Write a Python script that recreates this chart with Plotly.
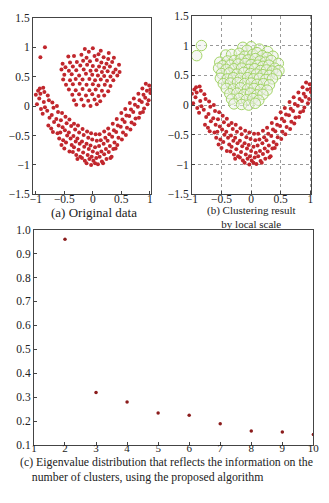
import plotly.graph_objects as go

# ---- data ----
top_cluster = [
    (-0.84, 1.00), (-0.92, 0.83),
    (-0.14, 0.97), (0.00, 0.98),
    (0.14, 0.94), (0.28, 0.90), (-0.07, 0.92),
    (-0.43, 0.84), (-0.33, 0.85), (-0.20, 0.87), (-0.11, 0.82), (0.03, 0.85), (0.10, 0.88), (0.19, 0.83), (0.37, 0.82), (0.27, 0.80),
    (-0.53, 0.72), (-0.40, 0.74), (-0.28, 0.75), (-0.17, 0.77), (-0.05, 0.76), (0.07, 0.78), (0.15, 0.74), (0.24, 0.72), (0.34, 0.75), (0.46, 0.70),
    (-0.48, 0.66), (-0.35, 0.67), (-0.22, 0.69), (-0.10, 0.70), (0.00, 0.68), (0.11, 0.67), (0.20, 0.65), (0.30, 0.67), (0.40, 0.62),
    (-0.55, 0.62), (-0.42, 0.60), (-0.29, 0.61), (-0.16, 0.62), (-0.04, 0.60), (0.06, 0.61), (0.16, 0.58), (0.26, 0.59), (0.36, 0.57), (0.47, 0.58),
    (-0.50, 0.53), (-0.37, 0.54), (-0.24, 0.52), (-0.12, 0.55), (-0.01, 0.53), (0.09, 0.52), (0.20, 0.51), (0.31, 0.50), (0.43, 0.52),
    (-0.52, 0.45), (-0.40, 0.44), (-0.30, 0.46), (-0.18, 0.45), (-0.06, 0.46), (0.04, 0.44), (0.14, 0.45), (0.25, 0.43), (0.36, 0.44),
    (-0.47, 0.36), (-0.35, 0.37), (-0.23, 0.38), (-0.11, 0.36), (0.00, 0.37), (0.10, 0.35), (0.21, 0.36), (0.31, 0.34),
    (-0.42, 0.28), (-0.30, 0.27), (-0.18, 0.29), (-0.06, 0.27), (0.05, 0.28), (0.16, 0.26), (0.27, 0.25),
    (-0.36, 0.19), (-0.24, 0.20), (-0.12, 0.18), (-0.01, 0.20), (0.10, 0.17), (0.20, 0.18),
    (-0.33, 0.10), (-0.20, 0.11), (-0.08, 0.09), (0.03, 0.11), (0.13, 0.08),
    (-0.29, 0.02), (-0.16, 0.01), (-0.04, 0.00), (0.07, 0.03),
]

bottom_moon = [
    (-1.00, 0.19), (-0.98, 0.03), (-0.96, 0.26),
    (-0.93, 0.30), (-0.94, 0.13), (-0.91, -0.05), (-0.92, 0.21),
    (-0.87, 0.31), (-0.85, 0.24), (-0.86, 0.07), (-0.88, -0.13), (-0.84, -0.02),
    (-0.79, 0.18), (-0.77, 0.10), (-0.80, -0.08), (-0.76, -0.20), (-0.78, -0.33),
    (-0.71, 0.06), (-0.69, -0.03), (-0.72, -0.15), (-0.68, -0.27), (-0.70, -0.44), (-0.73, -0.38),
    (-0.63, 0.00), (-0.61, -0.10), (-0.64, -0.22), (-0.60, -0.33), (-0.62, -0.46), (-0.59, -0.55),
    (-0.54, -0.12), (-0.56, -0.24), (-0.53, -0.36), (-0.57, -0.45), (-0.52, -0.58), (-0.55, -0.66),
    (-0.48, -0.18), (-0.46, -0.29), (-0.49, -0.41), (-0.45, -0.50), (-0.47, -0.62), (-0.50, -0.72),
    (-0.41, -0.23), (-0.38, -0.34), (-0.42, -0.45), (-0.39, -0.55), (-0.37, -0.66), (-0.41, -0.77),
    (-0.33, -0.30), (-0.31, -0.40), (-0.34, -0.51), (-0.30, -0.60), (-0.33, -0.70), (-0.29, -0.83), (-0.35, -0.78),
    (-0.26, -0.33), (-0.24, -0.45), (-0.27, -0.55), (-0.23, -0.64), (-0.25, -0.74), (-0.22, -0.86), (-0.27, -0.90),
    (-0.18, -0.39), (-0.16, -0.49), (-0.19, -0.60), (-0.15, -0.69), (-0.17, -0.79), (-0.14, -0.93), (-0.19, -0.88),
    (-0.10, -0.43), (-0.08, -0.54), (-0.11, -0.64), (-0.07, -0.73), (-0.09, -0.83), (-0.11, -0.97), (-0.06, -0.90),
    (-0.03, -0.46), (-0.01, -0.57), (-0.04, -0.67), (0.00, -0.77), (-0.02, -0.86), (-0.03, -1.00), (0.01, -0.93),
    (0.05, -0.48), (0.07, -0.59), (0.04, -0.70), (0.08, -0.80), (0.06, -0.88), (0.04, -0.97), (0.09, -0.99),
    (0.12, -0.48), (0.14, -0.58), (0.11, -0.68), (0.15, -0.77), (0.12, -0.86), (0.16, -0.94),
    (0.20, -0.43), (0.22, -0.54), (0.19, -0.64), (0.23, -0.73), (0.20, -0.82), (0.18, -0.97), (0.24, -0.90),
    (0.27, -0.38), (0.29, -0.48), (0.26, -0.59), (0.30, -0.68), (0.28, -0.78), (0.31, -0.88),
    (0.35, -0.30), (0.37, -0.41), (0.34, -0.52), (0.38, -0.62), (0.36, -0.73), (0.33, -0.86),
    (0.42, -0.22), (0.44, -0.33), (0.41, -0.44), (0.45, -0.54), (0.43, -0.66), (0.40, -0.72),
    (0.50, -0.12), (0.52, -0.23), (0.49, -0.35), (0.53, -0.45), (0.51, -0.57),
    (0.57, -0.05), (0.59, -0.16), (0.56, -0.27), (0.60, -0.37), (0.58, -0.49),
    (0.65, 0.05), (0.67, -0.06), (0.64, -0.17), (0.68, -0.28), (0.66, -0.40),
    (0.72, 0.13), (0.74, 0.02), (0.71, -0.10), (0.75, -0.21), (0.73, -0.31),
    (0.80, 0.21), (0.82, 0.10), (0.79, -0.01), (0.83, -0.12), (0.81, -0.20),
    (0.87, 0.30), (0.89, 0.19), (0.86, 0.07), (0.90, -0.04), (0.88, -0.10),
    (0.93, 0.38), (0.95, 0.26), (0.92, 0.14), (0.96, 0.03),
    (0.99, 0.35), (1.01, 0.22), (0.98, 0.10), (1.01, 0.28),
]

cluster_counts = [2, 3, 4, 5, 6, 7, 8, 9, 10]
eigenvalues = [0.96, 0.32, 0.28, 0.235, 0.225, 0.19, 0.16, 0.155, 0.145]

xy_ticks = [-1, -0.5, 0, 0.5, 1]
xy_ticktext = ["−1", "−0.5", "0", "0.5", "1"]
y_ticks_ab = [-1.5, -1, -0.5, 0, 0.5, 1, 1.5]
y_ticktext_ab = ["−1.5", "−1", "−0.5", "0", "0.5", "1", "1.5"]
c_yticks = [0.1, 0.2, 0.3, 0.4, 0.5, 0.6, 0.7, 0.8, 0.9, 1.0]
c_xticks = list(range(1, 11))

# ---- figure ----
W, H = 329, 503
FONT = "Liberation Serif"
RED = "#c1272d"


def px_x(p):
    return p / W


def px_y(p):
    return 1 - p / H


all_pts = top_cluster + bottom_moon
fig = go.Figure()

# panel (a)
fig.add_trace(go.Scatter(
    x=[p[0] for p in all_pts], y=[p[1] for p in all_pts], mode="markers",
    marker=dict(size=4, color=RED, line=dict(width=0)),
    xaxis="x", yaxis="y", showlegend=False, hoverinfo="skip"))

# panel (b)
fig.add_trace(go.Scatter(
    x=[p[0] for p in bottom_moon], y=[p[1] for p in bottom_moon], mode="markers",
    marker=dict(size=4, color=RED, line=dict(width=0)),
    xaxis="x2", yaxis="y2", showlegend=False, hoverinfo="skip"))
fig.add_trace(go.Scatter(
    x=[p[0] for p in top_cluster], y=[p[1] for p in top_cluster], mode="markers",
    marker=dict(size=10.5, color="rgba(236,240,232,0.5)", line=dict(width=1, color="#a3d466")),
    xaxis="x2", yaxis="y2", showlegend=False, hoverinfo="skip"))

# panel (c)
fig.add_trace(go.Scatter(
    x=cluster_counts, y=eigenvalues, mode="markers",
    marker=dict(size=3.5, color="#8b1c1c"),
    xaxis="x3", yaxis="y3", showlegend=False, hoverinfo="skip"))

axis_common = dict(showgrid=False, zeroline=False, showline=True, mirror=True,
                   linecolor="#444", linewidth=1, ticks="inside", ticklen=3,
                   tickcolor="#444", tickfont=dict(family=FONT, size=11.5, color="#222"))

fig.update_layout(
    width=W, height=H, margin=dict(l=0, r=0, t=0, b=0),
    paper_bgcolor="white", plot_bgcolor="white",
    font=dict(family=FONT, size=12, color="#222"),
    xaxis=dict(axis_common, ticklabelstandoff=-6, domain=[px_x(28), px_x(151)], range=[-1.05, 1.03],
               tickvals=xy_ticks, ticktext=xy_ticktext, anchor="y"),
    yaxis=dict(axis_common, domain=[px_y(193), px_y(12)], range=[-1.5, 1.5],
               tickvals=y_ticks_ab, ticktext=y_ticktext_ab, anchor="x"),
    xaxis2=dict(axis_common, ticklabelstandoff=-6, domain=[px_x(193), px_x(317)], range=[-1.0, 1.02],
                tickvals=xy_ticks, ticktext=xy_ticktext, anchor="y2",
                showgrid=True, gridcolor="#999", griddash="dot", gridwidth=1),
    yaxis2=dict(axis_common, domain=[px_y(193), px_y(10)], range=[-1.5, 1.5],
                tickvals=y_ticks_ab, ticktext=y_ticktext_ab, anchor="x2",
                showgrid=True, gridcolor="#999", griddash="dot", gridwidth=1),
    xaxis3=dict(axis_common, ticklabelstandoff=-7, domain=[px_x(29), px_x(319)], range=[1, 10],
                tickvals=c_xticks, anchor="y3", tickfont=dict(family=FONT, size=11, color="#222")),
    yaxis3=dict(axis_common, domain=[px_y(450), px_y(229)], range=[0.1, 1.0],
                tickvals=c_yticks, ticktext=[f"{v:.1f}" for v in c_yticks], anchor="x3"),
)

fig.add_annotation(text="(a) Original data", xref="paper", yref="paper",
                   x=px_x(91), y=px_y(212), xanchor="center", yanchor="middle",
                   showarrow=False, font=dict(family=FONT, size=13, color="#222"))
fig.add_annotation(text="(b) Clustering result<br>by local scale", xref="paper", yref="paper",
                   x=px_x(255), y=px_y(216.5), xanchor="center", yanchor="middle", align="center",
                   showarrow=False, font=dict(family=FONT, size=11, color="#222"))
fig.add_annotation(
    text="(c) Eigenvalue distribution that reflects the information on the<br>"
         "&nbsp;&nbsp;&nbsp;&nbsp;number of clusters, using the proposed algorithm",
    xref="paper", yref="paper", x=px_x(12), y=px_y(475),
    xanchor="left", yanchor="middle", align="left", showarrow=False,
    font=dict(family=FONT, size=11.8, color="#222"))

fig.write_html("out.html")
